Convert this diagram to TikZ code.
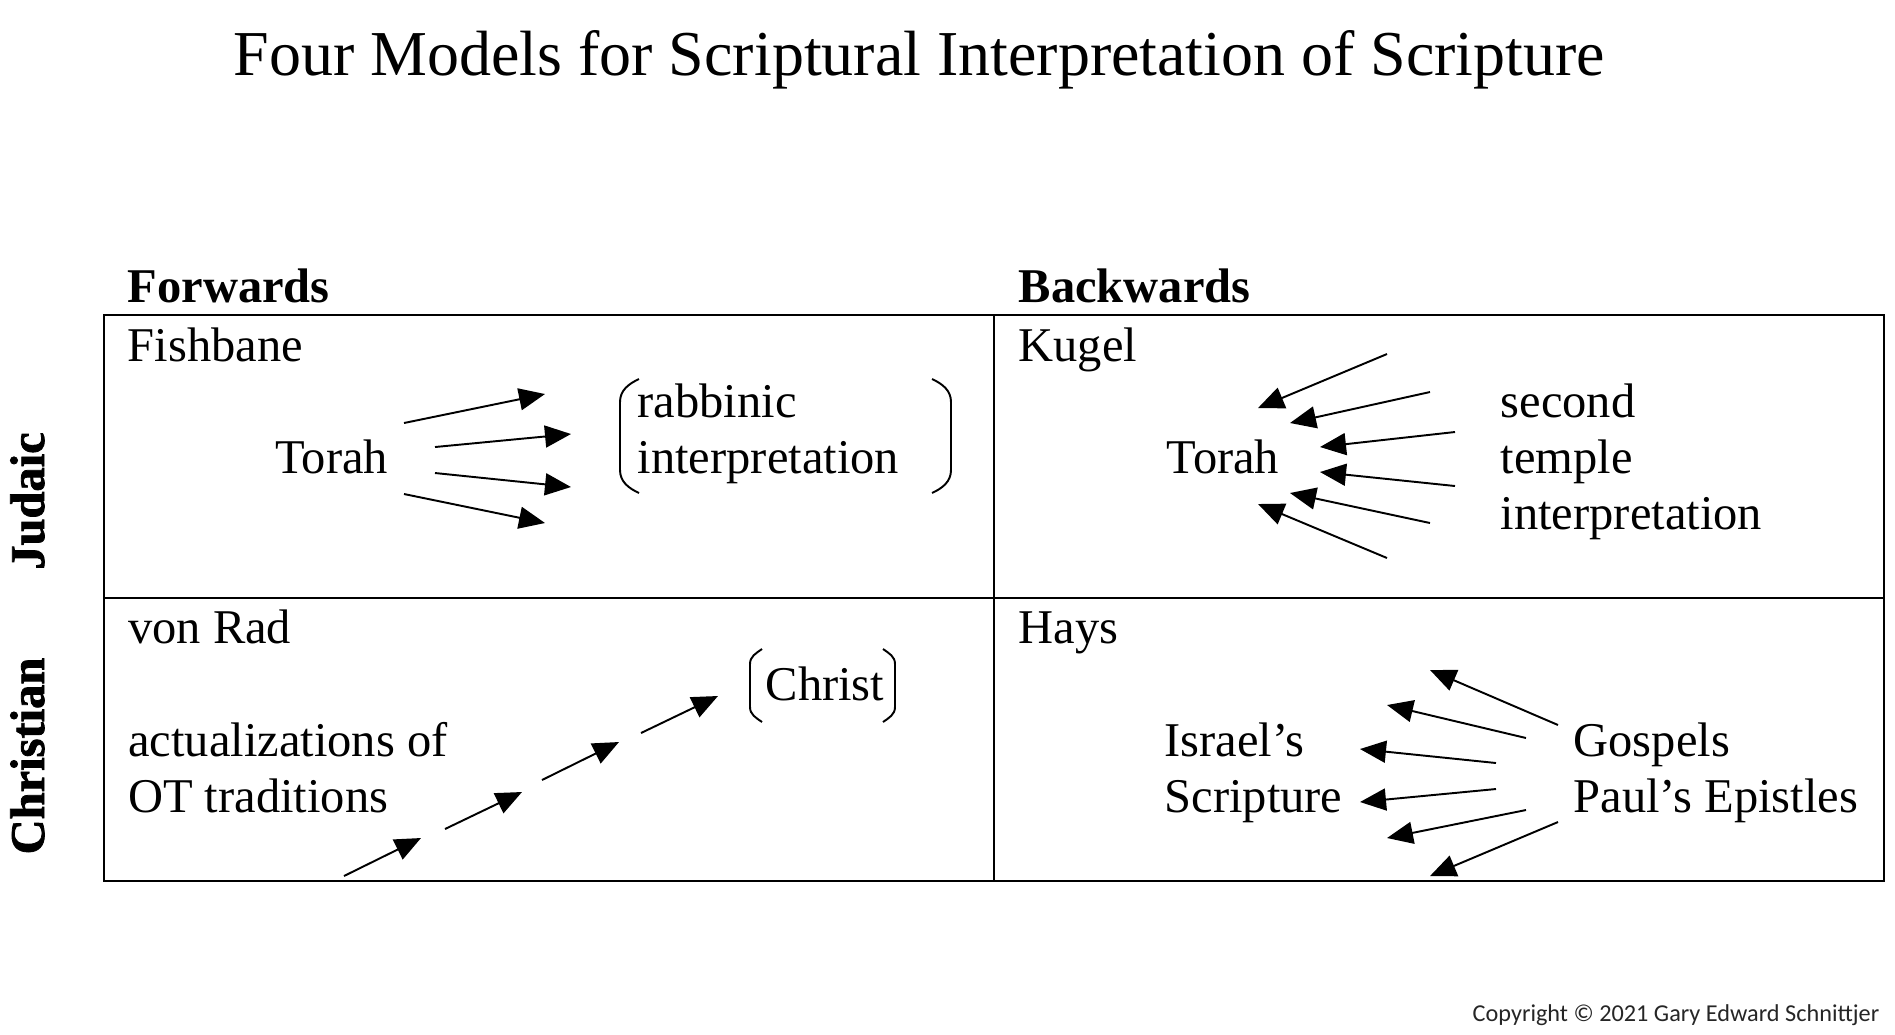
\documentclass[tikz,border=0pt]{standalone}
\usepackage{fontspec}
\setmainfont{Liberation Serif}
\newfontfamily\copyfont{Carlito}
\newfontfamily\sidefont[FakeBold=1.6]{Liberation Serif Bold}
\usetikzlibrary{arrows.meta, positioning}

\begin{document}
\begin{tikzpicture}[x=0.1mm, y=-0.1mm,
  txt/.style={inner sep=0pt, anchor=base west, font=\fontsize{13.8}{15.9}\selectfont},
  head/.style={txt, font=\fontsize{13.8}{15.9}\selectfont\bfseries},
  side/.style={inner sep=0pt, anchor=base, rotate=90, font=\fontsize{13.8}{15.9}\sidefont},
  fan/.style={-{Triangle[length=2.6mm, width=2.2mm]}, line width=0.55pt},
  paren/.style={line width=0.55pt},
  grid/.style={line width=0.7pt}]
\fill[white] (0,0) rectangle (1895,1034);
\useasboundingbox (0,0) rectangle (1895,1034);

\node[inner sep=0pt, anchor=base west, font=\fontsize{18.2}{22}\selectfont] (title) at (233,75) {Four Models for Scriptural Interpretation of Scripture};

% table
\draw[grid] (104,315) rectangle (1884,881);
\draw[grid] (104,598) -- (1884,598);
\draw[grid] (994,315) -- (994,881);

\node[head] (fwd) at (127,302) {Forwards};
\node[head] (bwd) at (1018,302) {Backwards};
\node[side] (judaic) at (44,501) {Judaic};
\node[side] (christian) at (44,756) {Christian};

% Fishbane
\node[txt] (fishbane) at (127,361) {Fishbane};
\node[txt] (torahF) at (275,473) {Torah};
\node[txt] (rabbinic) at (637,417) {rabbinic};
\node[txt] (interpF) at (637,473) {interpretation};
\draw[paren] (639,379) to[out=205, in=90] (620,402) -- (620,470) to[out=-90, in=155] (639,493);
\draw[paren] (932,379) to[out=-25, in=90] (951,402) -- (951,470) to[out=-90, in=25] (932,493);
\foreach \sx/\sy/\ex/\ey [count=\i] in {404/423/545/394, 435/447/571/434, 435/473/571/487, 404/494/545/523}{
  \coordinate (ft\i) at (\sx,\sy);
  \coordinate (fh\i) at (\ex,\ey);
  \draw[fan] (ft\i) -- (fh\i);
}

% Kugel
\node[txt] (kugel) at (1018,361) {Kugel};
\node[txt] (torahB) at (1166,473) {Torah};
\node[txt] (second) at (1500,417) {second};
\node[txt] (temple) at (1500,473) {temple};
\node[txt] (interpB) at (1500,529) {interpretation};
\foreach \sx/\sy/\ex/\ey [count=\i] in {1387/354/1258/408, 1430/392/1290/423, 1455/432/1320/447, 1455/486/1320/472, 1430/523/1290/493, 1387/558/1258/504}{
  \coordinate (kt\i) at (\sx,\sy);
  \coordinate (kh\i) at (\ex,\ey);
  \draw[fan] (kt\i) -- (kh\i);
}

% von Rad
\node[txt] (vonrad) at (127.5,643) {von Rad};
\node[txt] (actual) at (127.5,756) {actualizations of};
\node[txt] (ottrad) at (127.5,812) {OT traditions};
\node[txt] (christ) at (765,700) {Christ};
\draw[paren] (762,649) to[out=215, in=90] (750,664) -- (750,707) to[out=-90, in=145] (762,722);
\draw[paren] (883,649) to[out=-35, in=90] (895,664) -- (895,707) to[out=-90, in=35] (883,722);
\foreach \sx/\sy/\ex/\ey [count=\i] in {344/876/421/838, 445/829/522/792, 542/780/619/742, 641/733/718/696}{
  \coordinate (vt\i) at (\sx,\sy);
  \coordinate (vh\i) at (\ex,\ey);
  \draw[fan] (vt\i) -- (vh\i);
}

% Hays
\node[txt] (hays) at (1018,643) {Hays};
\node[txt] (israels) at (1164,756) {Israel’s};
\node[txt] (scripture) at (1164,812) {Scripture};
\node[txt] (gospels) at (1573,756) {Gospels};
\node[txt] (pauls) at (1573,812) {Paul’s Epistles};
\foreach \sx/\sy/\ex/\ey [count=\i] in {1558/725/1430/670, 1526/738/1387/705, 1496/763/1360/749, 1496/789/1360/802, 1526/810/1387/838, 1558/822/1430/876}{
  \coordinate (ht\i) at (\sx,\sy);
  \coordinate (hh\i) at (\ex,\ey);
  \draw[fan] (ht\i) -- (hh\i);
}

\node[inner sep=0pt, anchor=base east, font=\copyfont\fontsize{6.9}{8}\selectfont, text=black!85] (copyright) at (1880,1021) {Copyright © 2021 Gary Edward Schnittjer};
\end{tikzpicture}
\end{document}
